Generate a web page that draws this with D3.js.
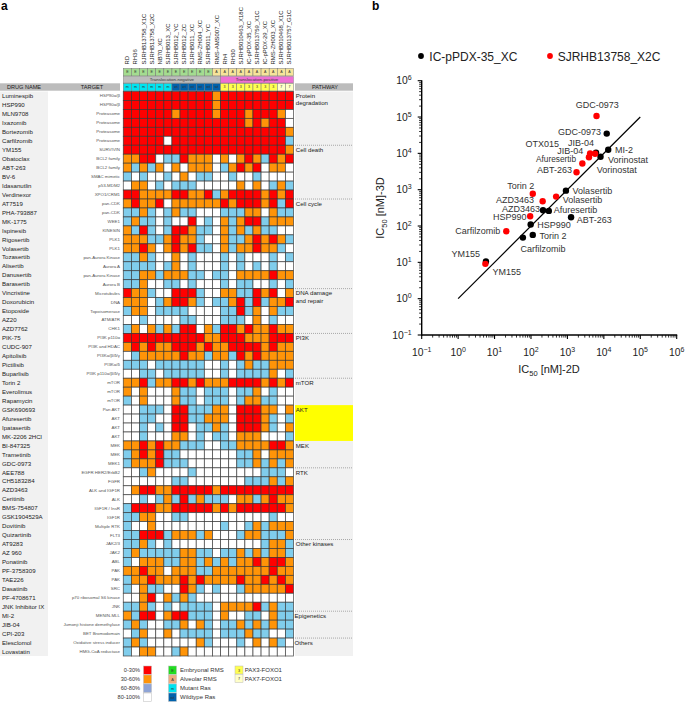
<!DOCTYPE html>
<html>
<head>
<meta charset="utf-8">
<script src="https://d3js.org/d3.v7.min.js"></script>
<style>
html, body { margin: 0; padding: 0; background: #fff; }
svg { display: block; }
text { font-family: "Liberation Sans", Arial, sans-serif; }
</style>
</head>
<body>
<svg id="fig" width="685" height="703"></svg>
<script>
// panel a: column headers
var cellLines = ["RD", "RH36", "SJRHB13758_X1C", "SJRHB13758_X2C", "NB70_XC", "SJRHB013_XC", "SJRHB012_YC", "SJRHB012_ZC",
    "SJRHB011_XC", "RMS-ZH004_XC", "SJRHB011_YC", "RMS-AMS007_XC", "Rh4", "RH30", "SJRHB010463_X18C", "IC-pPDX-35_XC",
    "SJRHB013759_X1C", "IC-pPDX-29_XC", "RMS-ZH003_XC", "SJRHB010468_X1C", "SJRHB013757_G1C"];
var histology = ["E","E","E","E","E","E","E","E","E","E","E","A","A","A","A","A","A","A","A","A","A"];
var rasFusion = ["m","m","m","m","m","m","wt","wt","wt","wt","wt","wt","3","3","3","3","3","3","3","7","7"];

var drugs = ["Luminespib","HSP990","MLN9708","Ixazomib","Bortezomib","Carfilzomib","YM155","Obatoclax","ABT-263","BV-6",
    "Idasanutlin","Verdinexor","AT7519","PHA-793887","MK-1775","Ispinesib","Rigosertib","Volasertib","Tozasertib","Alisertib",
    "Danusertib","Barasertib","Vincristine","Doxorubicin","Etoposide","AZ20","AZD7762","PIK-75","CUDC-907","Apitolisib",
    "Pictilisib","Buparlisib","Torin 2","Everolimus","Rapamycin","GSK690693","Afuresertib","Ipatasertib","MK-2206 2HCl","BI-847325",
    "Trametinib","GDC-0973","AEE788","CH5183284","AZD3463","Ceritinib","BMS-754807","GSK1904529A","Dovitinib","Quizartinib",
    "AT9283","AZ 960","Ponatinib","PF-3758309","TAE226","Dasatinib","PF-4708671","JNK Inhibitor IX","MI-2","JIB-04",
    "CPI-203","Elesclomol","Lovastatin"];
var targets = ["HSP90α/β","HSP90α/β","Proteasome","Proteasome","Proteasome","Proteasome","SURVIVIN","BCL2 family","BCL2 family","SMAC mimetic",
    "p53-MDM2","XPO1/CRM1","pan-CDK","pan-CDK","WEE1","KINESIN","PLK1","PLK1","pan-Aurora Kinase","Aurora A",
    "pan-Aurora Kinase","Aurora B","Microtubules","DNA","Topoisomerase","ATM/ATR","CHK1","PI3K p110α","PI3K and HDAC","PI3Kα/β/δ/γ",
    "PI3Kα/δ","PI3K p110α/β/δ/γ","mTOR","mTOR","mTOR","Pan AKT","AKT","AKT","AKT","MEK",
    "MEK","MEK1","EGFR HER2/ErbB2","FGFR","ALK and IGF1R","ALK","IGF1R / InsR","IGF1R","Multiple RTK","FLT3",
    "JAK2/3","JAK2","ABL","PAK","PAK","SRC","p70 ribosomal S6 kinase","JNK","MENIN-MLL","Jumonji histone demethylase",
    "BET Bromodomain","Oxidative stress inducer","HMG-CoA reductase"];

// one letter per cell line: r 0-30%, o 30-60%, b 60-80%, w 80-100%
var viabilityBins = [
    "rrrrrrrrrrrorrrrrrrrr","rrrrrrrrrrrorrrrrrrrr","rrrrrrorrrrorrrorrrow","rrrrrrrrrrrrrrrororrw","rrrrrrrrrrrrrrrrrrrro",
    "rrrrrwrrrrrrrrrrrrrrb","rrrrrrrrrrrrrrrrrrrro","oorrwbbrooowoworobror","obobowowooowbororwoow","bwbwwbwowbbwwbwwbwwww",
    "woowbwbbbwwwwwowowbob","rroooorroorborrrroror","oroorwoooooororrrorbr","bbobwbobbwwwbbboowobb","bobbwbwwrwbwoborrbooo",
    "obrbwbrrobbwobobobbww","ooobboroobwwobbororob","oorowororbbwobooroobw","bbobwwowbwwwbwbwwwbwb","bbbbwbowbwwwbwbwbwbww",
    "bboobooobbwbbwooooroo","bbowwbbwbwwwbwbbwwbwb","roobwwrrrbwwoobbrorwo","ooowborrobwbborbrboor","boowbbbbwwwwbbrbowobb",
    "wwbwwwwbbwwwbbbwowbww","bowobobrrwobrrorooroo","rrrrrrrrrroorrrooorrr","ororoorrroroorrrroroo","wbooooorooboobroroooo",
    "bbbwbbbbbbwwbwbobbooo","wwbbwbbbbbwwbwbbbbowb","oorboorrorooorrrroror","owowwwobbwbbbwbbowbww","bwowwwobbwbbbwboobbww",
    "wwbbbwrrbbboowrrroowo","wwbbwwrrbbooowrrrobwb","wwbwbwrrwbbobwrrrobwo","wwbwwwoowbwbbwooowwwb","oororoobbbwwbboooorro",
    "bororbbwwwwwwwbbowooo","booorbbbwwwwwwbbobobo","wwbowwwwbwwwwwwwwbbbw","wwwwwwbbwwwwwwwbbbobo","worroorrrrrorrrrrrrrr",
    "wwbwbobrbobbbwooboroo","brrroorrrrrororrrrrro","bboowwbbwwwwwwwwwwbww","bwwowwwwwwwwbwwbobooo","bbrrrbooobowwwboobbbo",
    "bbobwbwwwwwwwwwwwboob","bobbbbboobbwbboboboob","bwooobboobobob" + "oororro","ooroowooobboooooooroo","boorooororooooroororo",
    "bwobbwwrobwbwwbooooor","wworwobobwwwwwwwwwwww","bbobwbwbbbbwoooorbobb","obrrworrbbbwowwbbwobb","bobwwbbowobwbbobobobb",
    "wbowwowbbbbwbbbobbwwb","bobwwwwwwobwwwbwowobw","bwoowwbowwwwwwwwwwwww"
];

var pathways = ["Protein\ndegradation","Cell death","Cell cycle","DNA damage\nand repair","PI3K","mTOR","AKT","MEK","RTK","Other kinases","Epigenetics","Others"];
var pathwayFirstDrug = ["Luminespib","YM155","AT7519","Vincristine","PIK-75","Torin 2","GSK690693","BI-847325","AEE788","AT9283","MI-2","Elesclomol"];

// panel a legends
var binLabels = ["0-30%","30-60%","60-80%","80-100%"];
var typeLabels = ["Embryonal RMS","Alveolar RMS","Mutant Ras","Wildtype Ras"];
var fusionLabels = ["PAX3-FOXO1","PAX7-FOXO1"];

// panel b: IC50 in nM
var scatterLegend = ["IC-pPDX-35_XC","SJRHB13758_X2C"];
var blackDrugs = ["GDC-0973","JIB-04","MI-2","Vorinostat","Volasertib","AZD3463","Afuresertib","ABT-263","HSP990","Torin 2","Carfilzomib","YM155"];
var black2D = [12000, 6100, 13200, 8100, 910, 214, 309, 1260, 98, 112, 60, 5.8];
var black3D = [35000, 10500, 12600, 8100, 940, 272, 261, 174, 110, 57, 48, 10.5];
var redDrugs = ["GDC-0973","JIB-04","OTX015","Vorinostat","Afuresertib","ABT-263","Volasertib","Torin 2","AZD3463","HSP990","Carfilzomib","YM155"];
var red2D = [6300, 4200, 5750, 3900, 2570, 1780, 490, 112, 209, 95, 21, 5.6];
var red3D = [107000, 10000, 9800, 7850, 5250, 3020, 646, 776, 479, 186, 72, 9.1];
var fitLine = [1, 100000];
var logTicks = [-1, 0, 1, 2, 3, 4, 5, 6];

// colours
var binColor = { r: "#ff0000", o: "#ff9408", b: "#80cdec", w: "#ffffff" };
var histColor = { E: "#a4dc90", A: "#f6e49a" };
var rasColor = { m: "#00e4f0", wt: "#0062ac", "3": "#ffff50", "7": "#ffffc8" };

// label offsets from their dot: dx, dy, anchor, font size
var blackNudge = [[-5.7,1.7,"end",9],[-12.7,1,"end",9],[6.7,3,"start",9],[7.6,6.6,"start",9],[6.7,3.3,"start",9],[-3,1.4,"end",9],
    [5,1.7,"start",9],[5.7,5.7,"start",9],[6.6,3.6,"start",9],[6.6,4.3,"start",9],[-2.3,14,"start",9],[-6,-5,"end",9]];
var redNudge = [[-20.7,-7.7,"start",9],[-22,-7.3,"start",9],[-36,-6.4,"end",9],[7.7,15.4,"start",9],[-6.3,-1.4,"end",8.3],[-4.4,0.4,"end",9],
    [6.7,6,"start",9],[1.6,-4.7,"end",9],[-8.7,1.4,"end",9],[-3.6,4,"end",9],[-6,3,"end",9],[7,11.3,"start",9]];

// catch a mistyped row before it draws outside the grid
viabilityBins.forEach(function(row, i) {
    if (!/^[robw]{21}$/.test(row)) throw new Error("bad row " + i + " " + drugs[i]);
});

var svg = d3.select("#fig");

svg.append("text").attr("x", 1).attr("y", 10).attr("font-size", 12).attr("font-weight", "bold").text("a");
svg.append("text").attr("x", 372).attr("y", 10).attr("font-size", 12).attr("font-weight", "bold").text("b");

drawHeatmap();
drawScatter();

function drawHeatmap() {
    var x = d3.scaleBand().domain(d3.range(cellLines.length)).range([123.3, 293.5]);
    var y = d3.scaleBand().domain(drugs).range([91.5, 656]);
    var g = svg.append("g");

    // side panels
    g.append("rect").attr("x", 0).attr("y", y.range()[0]).attr("width", 48).attr("height", y.range()[1] - y.range()[0]).attr("fill", "#f1f1f1");
    g.append("rect").attr("x", 295).attr("y", y.range()[0]).attr("width", 58).attr("height", y.range()[1] - y.range()[0]).attr("fill", "#f1f1f1");
    g.append("rect").attr("x", 295).attr("y", y("GSK690693")).attr("width", 58).attr("height", y("BI-847325") - y("GSK690693")).attr("fill", "#ffff00");

    // header bars
    [[0, 120], [295, 58]].forEach(function(d) {
        g.append("rect").attr("x", d[0]).attr("y", 83.3).attr("width", d[1]).attr("height", 7.4).attr("fill", "#bcbcbc");
    });
    [["DRUG NAME", 24], ["TARGET", 92], ["PATHWAY", 325]].forEach(function(d) {
        g.append("text").attr("x", d[1]).attr("y", 89.3).attr("text-anchor", "middle").attr("font-size", 5.6).attr("fill", "#222").text(d[0]);
    });

    // column names
    g.selectAll(".colname").data(cellLines).enter().append("text")
        .attr("transform", function(d, i) { return "translate(" + (x(i) + x.bandwidth() / 2 + 2) + ",64.5) rotate(-90)"; })
        .attr("font-size", 5.95).attr("fill", "#222").text(function(d) { return d; });

    // annotation strips
    var stripCell = function(sel, top, h, colorOf) {
        sel.append("rect").attr("x", function(d, i) { return x(i); }).attr("y", top).attr("width", x.bandwidth()).attr("height", h)
            .attr("fill", colorOf).attr("stroke", "#777").attr("stroke-width", 0.5);
        sel.append("text").attr("x", function(d, i) { return x(i) + x.bandwidth() / 2; }).attr("y", top + h / 2 + 1.2)
            .attr("text-anchor", "middle").attr("font-size", 3.6).attr("fill", "#333").text(function(d) { return d; });
    };
    stripCell(g.append("g").selectAll("g").data(histology).enter().append("g"), 68.5, 7.4, function(d) { return histColor[d]; });
    stripCell(g.append("g").selectAll("g").data(rasFusion).enter().append("g"), 83.3, 7.6, function(d) { return rasColor[d]; });

    var split = x(12);
    g.append("rect").attr("x", x(0)).attr("y", 76.4).attr("width", split - x(0)).attr("height", 6.6).attr("fill", "#bcbcbc").attr("stroke", "#777").attr("stroke-width", 0.4);
    g.append("rect").attr("x", split).attr("y", 76.4).attr("width", x.range()[1] - split).attr("height", 6.6).attr("fill", "#ee70d4").attr("stroke", "#777").attr("stroke-width", 0.4);
    g.append("text").attr("x", (x(0) + split) / 2).attr("y", 81.4).attr("text-anchor", "middle").attr("font-size", 4.4).attr("fill", "#333").text("Translocation-negative");
    g.append("text").attr("x", (split + x.range()[1]) / 2).attr("y", 81.4).attr("text-anchor", "middle").attr("font-size", 4.4).attr("fill", "#333").text("Translocation-positive");

    // row labels
    g.selectAll(".drug").data(drugs).enter().append("text")
        .attr("x", 2).attr("y", function(d) { return y(d) + y.bandwidth() / 2 + 2.2; })
        .attr("font-size", 6.1).attr("fill", "#222").text(function(d) { return d; });
    g.selectAll(".target").data(targets).enter().append("text")
        .attr("x", 120).attr("y", function(d, i) { return y(drugs[i]) + y.bandwidth() / 2 + 1.5; })
        .attr("text-anchor", "end").attr("font-size", 4.4).attr("fill", "#555").text(function(d) { return d; });

    // cells
    var rows = g.selectAll(".row").data(viabilityBins).enter().append("g")
        .attr("transform", function(d, i) { return "translate(0," + y(drugs[i]) + ")"; });
    rows.selectAll("rect").data(function(d) { return d.split(""); }).enter().append("rect")
        .attr("x", function(d, i) { return x(i); })
        .attr("width", x.bandwidth()).attr("height", y.bandwidth())
        .attr("fill", function(d) { return binColor[d]; })
        .attr("stroke", "#333").attr("stroke-opacity", 0.8).attr("stroke-width", 0.8);

    // pathway labels and dotted separators
    pathways.forEach(function(name, i) {
        var top = y(pathwayFirstDrug[i]);
        if (i > 0 && name != "MEK" && name != "AKT") {
            g.append("line").attr("x1", 295).attr("x2", 353).attr("y1", top).attr("y2", top)
                .attr("stroke", "#777").attr("stroke-width", 0.6).attr("stroke-dasharray", "1,1");
        }
        var tx = (name == "Epigenetics" || name == "Others") ? 294.5 : 295.8;
        name.split("\n").forEach(function(line, k) {
            g.append("text").attr("x", tx).attr("y", top + y.bandwidth() / 2 + 2.2 + k * 7.2)
                .attr("font-size", 6.1).attr("fill", "#222").text(line);
        });
    });

    // legends
    var leg = g.append("g");
    var legendY = d3.scaleBand().domain(d3.range(4)).range([666, 702]);
    var binKeys = ["r", "o", "p", "w"];
    binLabels.forEach(function(t, i) {
        leg.append("rect").attr("x", 143.5).attr("y", legendY(i)).attr("width", 8).attr("height", 8.4)
            .attr("fill", binKeys[i] == "p" ? "#8ea4d6" : binColor[binKeys[i]]).attr("stroke", "#bbb").attr("stroke-width", 0.5);
        leg.append("text").attr("x", 140).attr("y", legendY(i) + 6.3).attr("text-anchor", "end").attr("font-size", 5.6).attr("fill", "#333").text(t);
    });
    var typeFill = ["#22dd22", "#f0ac80", "#00e4f0", "#0062ac"], typeKey = ["E", "A", "m", "wt"];
    typeLabels.forEach(function(t, i) {
        leg.append("rect").attr("x", 168.5).attr("y", legendY(i)).attr("width", 8).attr("height", 8.4)
            .attr("fill", typeFill[i]).attr("stroke", "#bbb").attr("stroke-width", 0.5);
        leg.append("text").attr("x", 172.5).attr("y", legendY(i) + 5.6).attr("text-anchor", "middle").attr("font-size", 3.8).attr("fill", "#333").text(typeKey[i]);
        leg.append("text").attr("x", 180).attr("y", legendY(i) + 6.3).attr("font-size", 6).attr("fill", "#333").text(t);
    });
    var fusionFill = [rasColor["3"], rasColor["7"]], fusionKey = ["3", "7"];
    fusionLabels.forEach(function(t, i) {
        leg.append("rect").attr("x", 235).attr("y", 666 + i * 8.6).attr("width", 8).attr("height", 8)
            .attr("fill", fusionFill[i]).attr("stroke", "#bbb").attr("stroke-width", 0.5);
        leg.append("text").attr("x", 239).attr("y", 671.6 + i * 8.6).attr("text-anchor", "middle").attr("font-size", 3.8).attr("fill", "#333").text(fusionKey[i]);
        leg.append("text").attr("x", 244.7).attr("y", 672 + i * 8.6).attr("font-size", 6).attr("fill", "#333").text(t);
    });
}

function pow10Label(sel, base, exp, expSize) {
    sel.append("tspan").text(base);
    sel.append("tspan").attr("dy", -4).attr("font-size", expSize).text(exp);
}

function drawScatter() {
    var x = d3.scaleLog().domain([0.1, 1e6]).range([421.7, 676.7]);
    var y = d3.scaleLog().domain([0.1, 1e6]).range([335, 80.7]);
    var g = svg.append("g");

    // minor ticks come from the same log scales
    var minor = x.ticks().filter(function(v) { return Math.abs(Math.log10(v) - Math.round(Math.log10(v))) > 1e-6; });

    g.selectAll(".xminor").data(minor).enter().append("line")
        .attr("x1", function(d) { return x(d); }).attr("x2", function(d) { return x(d); })
        .attr("y1", 335).attr("y2", 337.6).attr("stroke", "#000").attr("stroke-width", 0.8);
    g.selectAll(".yminor").data(minor).enter().append("line")
        .attr("y1", function(d) { return y(d); }).attr("y2", function(d) { return y(d); })
        .attr("x1", 421.7).attr("x2", 419.1).attr("stroke", "#000").attr("stroke-width", 0.8);
    g.selectAll(".xmajor").data(logTicks).enter().append("line")
        .attr("x1", function(d) { return x(Math.pow(10, d)); }).attr("x2", function(d) { return x(Math.pow(10, d)); })
        .attr("y1", 335).attr("y2", 339).attr("stroke", "#000").attr("stroke-width", 1.1);
    g.selectAll(".ymajor").data(logTicks).enter().append("line")
        .attr("y1", function(d) { return y(Math.pow(10, d)); }).attr("y2", function(d) { return y(Math.pow(10, d)); })
        .attr("x1", 421.7).attr("x2", 417.7).attr("stroke", "#000").attr("stroke-width", 1.1);
    g.append("line").attr("x1", 421.7).attr("x2", 677.2).attr("y1", 335).attr("y2", 335).attr("stroke", "#000").attr("stroke-width", 1.4);
    g.append("line").attr("x1", 421.7).attr("x2", 421.7).attr("y1", 80.2).attr("y2", 335.7).attr("stroke", "#000").attr("stroke-width", 1.4);

    // tick labels
    logTicks.forEach(function(d) {
        var tx = g.append("text").attr("x", x(Math.pow(10, d))).attr("y", 356).attr("text-anchor", "middle").attr("font-size", 10.3).attr("fill", "#222");
        pow10Label(tx, "10", d < 0 ? "−1" : d, 7);
        var ty = g.append("text").attr("x", 411.7).attr("y", y(Math.pow(10, d)) + 3.6).attr("text-anchor", "end").attr("font-size", 10.3).attr("fill", "#222");
        pow10Label(ty, "10", d < 0 ? "−1" : d, 7);
    });

    // axis titles
    var xt = g.append("text").attr("x", 549).attr("y", 373).attr("text-anchor", "middle").attr("font-size", 11).attr("fill", "#222");
    xt.append("tspan").text("IC");
    xt.append("tspan").attr("dy", 2.5).attr("font-size", 7.5).text("50");
    xt.append("tspan").attr("dy", -2.5).text(" [nM]-2D");
    var yt = g.append("text").attr("transform", "translate(384,208) rotate(-90)").attr("text-anchor", "middle").attr("font-size", 11).attr("fill", "#222");
    yt.append("tspan").text("IC");
    yt.append("tspan").attr("dy", 2.5).attr("font-size", 7.5).text("50");
    yt.append("tspan").attr("dy", -2.5).text(" [nM]-3D");

    // unity line
    g.append("line").attr("x1", x(fitLine[0])).attr("y1", y(fitLine[0])).attr("x2", x(fitLine[1])).attr("y2", y(fitLine[1]))
        .attr("stroke", "#000").attr("stroke-width", 1.2);

    // points and labels, black first so the red sit on top
    [[blackDrugs, black2D, black3D, blackNudge, "#000"], [redDrugs, red2D, red3D, redNudge, "#ff0000"]].forEach(function(s) {
        s[0].forEach(function(name, i) {
            g.append("circle").attr("cx", x(s[1][i])).attr("cy", y(s[2][i])).attr("r", 3.2).attr("fill", s[4]);
        });
    });
    [[blackDrugs, black2D, black3D, blackNudge], [redDrugs, red2D, red3D, redNudge]].forEach(function(s) {
        s[0].forEach(function(name, i) {
            g.append("text").attr("x", x(s[1][i]) + s[3][i][0]).attr("y", y(s[2][i]) + s[3][i][1])
                .attr("text-anchor", s[3][i][2]).attr("font-size", s[3][i][3]).attr("fill", "#333").text(name);
        });
    });

    // top legend
    var lx = [[421, 429.3, "#000"], [550, 557.7, "#ff0000"]];
    scatterLegend.forEach(function(t, i) {
        g.append("circle").attr("cx", lx[i][0]).attr("cy", 56).attr("r", 2.9).attr("fill", lx[i][2]);
        g.append("text").attr("x", lx[i][1]).attr("y", 60.5).attr("font-size", 12).attr("fill", "#222").text(t);
    });
}
</script>
</body>
</html>
